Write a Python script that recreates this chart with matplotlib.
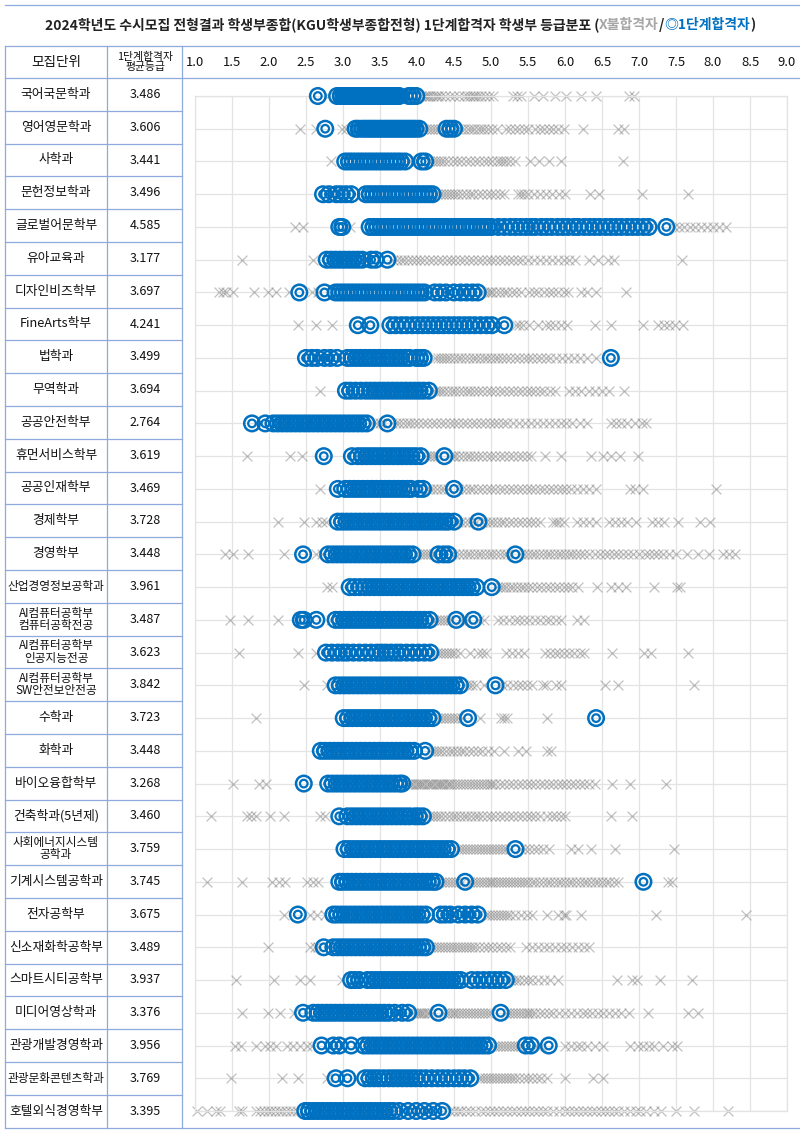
import numpy as np
import matplotlib
matplotlib.use("Agg")
import matplotlib.pyplot as plt
from matplotlib.transforms import blended_transform_factory

plt.rcParams['font.family'] = ['Noto Sans CJK KR', 'DejaVu Sans']

# ---- data ----
depts = ["국어국문학과", "영어영문학과", "사학과", "문헌정보학과", "글로벌어문학부",
         "유아교육과", "디자인비즈학부", "FineArts학부", "법학과", "무역학과",
         "공공안전학부", "휴먼서비스학부", "공공인재학부", "경제학부", "경영학부",
         "산업경영정보공학과", "AI컴퓨터공학부\n컴퓨터공학전공", "AI컴퓨터공학부\n인공지능전공",
         "AI컴퓨터공학부\nSW안전보안전공", "수학과", "화학과", "바이오융합학부", "건축학과(5년제)",
         "사회에너지시스템\n공학과", "기계시스템공학과", "전자공학부", "신소재화학공학부",
         "스마트시티공학부", "미디어영상학과", "관광개발경영학과", "관광문화콘텐츠학과",
         "호텔외식경영학부"]

avg_grade = ["3.486", "3.606", "3.441", "3.496", "4.585", "3.177", "3.697", "4.241",
             "3.499", "3.694", "2.764", "3.619", "3.469", "3.728", "3.448", "3.961",
             "3.487", "3.623", "3.842", "3.723", "3.448", "3.268", "3.460", "3.759",
             "3.745", "3.675", "3.489", "3.937", "3.376", "3.956", "3.769", "3.395"]

grade_ticks = ["1.0", "1.5", "2.0", "2.5", "3.0", "3.5", "4.0", "4.5", "5.0",
               "5.5", "6.0", "6.5", "7.0", "7.5", "8.0", "8.5", "9.0"]

# 1단계합격자 (blue double circles)
passed = [
    [2.66, 2.92, 2.97, 3.01, 3.05, 3.09, 3.14, 3.18, 3.22, 3.26, 3.31, 3.36, 3.40, 3.44, 3.47, 3.50, 3.54, 3.57, 3.60, 3.63, 3.66, 3.70, 3.73, 3.76, 3.89, 3.94, 3.99],  # 국어국문학과
    [2.76, 3.17, 3.21, 3.26, 3.30, 3.34, 3.38, 3.42, 3.46, 3.50, 3.54, 3.58, 3.62, 3.66, 3.70, 3.74, 3.78, 3.82, 3.86, 3.90, 3.94, 3.98, 4.03, 4.40, 4.45, 4.50],  # 영어영문학과
    [3.03, 3.08, 3.13, 3.18, 3.23, 3.28, 3.33, 3.38, 3.43, 3.48, 3.53, 3.58, 3.63, 3.68, 3.73, 3.78, 3.84, 4.06, 4.11],  # 사학과
    [2.73, 2.81, 2.91, 2.97, 3.04, 3.11, 3.31, 3.36, 3.41, 3.46, 3.51, 3.56, 3.61, 3.66, 3.71, 3.76, 3.81, 3.86, 3.91, 3.96, 4.01, 4.06, 4.11, 4.16, 4.21],  # 문헌정보학과
    [2.95, 2.99, 3.36, 3.41, 3.46, 3.51, 3.56, 3.61, 3.66, 3.71, 3.76, 3.81, 3.86, 3.91, 3.96, 4.01, 4.06, 4.11, 4.16, 4.21, 4.26, 4.31, 4.36, 4.41, 4.46, 4.51, 4.56, 4.61, 4.66, 4.71, 4.76, 4.81, 4.86, 4.91, 4.96, 5.01,
     5.10, 5.18, 5.26, 5.33, 5.40, 5.47, 5.54, 5.60, 5.68, 5.75, 5.82, 5.90, 5.97, 6.04, 6.12, 6.18, 6.26, 6.33, 6.40, 6.47, 6.55, 6.62, 6.69, 6.76, 6.84, 6.91, 6.98, 7.06, 7.13, 7.37],  # 글로벌어문학부
    [2.78, 2.84, 2.90, 2.96, 3.02, 3.08, 3.14, 3.20, 3.26, 3.38, 3.44, 3.60],  # 유아교육과
    [2.41, 2.75, 2.90, 2.95, 3.00, 3.05, 3.10, 3.15, 3.20, 3.25, 3.30, 3.35, 3.40, 3.45, 3.50, 3.55, 3.60, 3.65, 3.70, 3.75, 3.80, 3.85, 3.90, 3.95, 4.00, 4.05, 4.10, 4.24, 4.31, 4.39, 4.50, 4.59, 4.67, 4.75, 4.82],  # 디자인비즈학부
    [3.20, 3.37, 3.64, 3.71, 3.79, 3.86, 3.94, 4.01, 4.08, 4.15, 4.22, 4.29, 4.36, 4.43, 4.50, 4.57, 4.64, 4.71, 4.78, 4.86, 4.94, 5.01, 5.18],  # FineArts학부
    [2.50, 2.58, 2.65, 2.75, 2.83, 2.92, 3.06, 3.12, 3.18, 3.24, 3.30, 3.36, 3.42, 3.48, 3.54, 3.60, 3.66, 3.72, 3.78, 3.84, 3.90, 3.99, 4.04, 4.09, 6.62],  # 법학과
    [3.04, 3.10, 3.17, 3.24, 3.31, 3.37, 3.43, 3.49, 3.55, 3.61, 3.67, 3.73, 3.79, 3.85, 3.91, 3.97, 4.03, 4.09, 4.16],  # 무역학과
    [1.77, 1.95, 2.06, 2.12, 2.18, 2.24, 2.30, 2.36, 2.42, 2.48, 2.54, 2.60, 2.66, 2.72, 2.78, 2.84, 2.90, 2.96, 3.02, 3.08, 3.14, 3.20, 3.26, 3.32, 3.60],  # 공공안전학부
    [2.74, 3.12, 3.20, 3.26, 3.32, 3.38, 3.44, 3.50, 3.56, 3.62, 3.68, 3.74, 3.80, 3.86, 3.92, 3.98, 4.05, 4.37],  # 휴먼서비스학부
    [2.93, 3.03, 3.09, 3.15, 3.21, 3.27, 3.33, 3.39, 3.45, 3.51, 3.57, 3.63, 3.69, 3.75, 3.81, 3.87, 3.92, 4.02, 4.08, 4.50],  # 공공인재학부
    [2.93, 2.99, 3.05, 3.11, 3.17, 3.23, 3.29, 3.35, 3.41, 3.47, 3.53, 3.59, 3.65, 3.71, 3.77, 3.83, 3.89, 3.95, 4.01, 4.07, 4.13, 4.19, 4.25, 4.31, 4.37, 4.42, 4.50, 4.83],  # 경제학부
    [2.46, 2.80, 2.86, 2.92, 2.98, 3.04, 3.10, 3.16, 3.22, 3.28, 3.34, 3.40, 3.46, 3.52, 3.58, 3.64, 3.70, 3.76, 3.82, 3.88, 3.94, 4.29, 4.36, 4.42, 5.33],  # 경영학부
    [3.09, 3.16, 3.23, 3.30, 3.36, 3.42, 3.48, 3.54, 3.60, 3.66, 3.72, 3.78, 3.84, 3.90, 3.96, 4.02, 4.08, 4.14, 4.20, 4.26, 4.32, 4.38, 4.44, 4.50, 4.56, 4.62, 4.68, 4.74, 4.80, 5.01],  # 산업경영정보공학과
    [2.43, 2.47, 2.64, 2.90, 2.96, 3.02, 3.08, 3.14, 3.20, 3.26, 3.32, 3.38, 3.44, 3.50, 3.56, 3.62, 3.68, 3.74, 3.80, 3.86, 3.92, 3.98, 4.04, 4.10, 4.17, 4.53, 4.76],  # 컴퓨터공학전공
    [2.77, 2.85, 2.93, 3.00, 3.06, 3.14, 3.22, 3.30, 3.38, 3.46, 3.52, 3.58, 3.65, 3.72, 3.78, 3.86, 3.94, 4.02, 4.10, 4.18],  # 인공지능전공
    [2.90, 2.96, 3.02, 3.08, 3.14, 3.20, 3.26, 3.32, 3.38, 3.44, 3.50, 3.56, 3.62, 3.68, 3.74, 3.80, 3.86, 3.92, 3.98, 4.04, 4.10, 4.16, 4.22, 4.28, 4.34, 4.40, 4.46, 4.52, 4.58, 5.06],  # SW안전보안전공
    [3.01, 3.07, 3.13, 3.19, 3.25, 3.31, 3.37, 3.43, 3.49, 3.55, 3.61, 3.67, 3.73, 3.79, 3.85, 3.91, 3.97, 4.03, 4.09, 4.15, 4.21, 4.69, 6.42],  # 수학과
    [2.70, 2.76, 2.82, 2.88, 2.94, 3.00, 3.06, 3.12, 3.18, 3.24, 3.30, 3.36, 3.42, 3.48, 3.54, 3.60, 3.66, 3.72, 3.78, 3.84, 3.90, 3.96, 4.11],  # 화학과
    [2.47, 2.80, 2.86, 2.92, 2.98, 3.04, 3.10, 3.16, 3.22, 3.28, 3.34, 3.40, 3.46, 3.52, 3.58, 3.64, 3.70, 3.76, 3.80],  # 바이오융합학부
    [2.95, 3.06, 3.12, 3.18, 3.24, 3.30, 3.36, 3.42, 3.48, 3.54, 3.60, 3.66, 3.72, 3.78, 3.84, 3.90, 3.97, 4.02, 4.08],  # 건축학과(5년제)
    [3.02, 3.08, 3.14, 3.20, 3.26, 3.32, 3.38, 3.44, 3.50, 3.56, 3.62, 3.68, 3.74, 3.80, 3.86, 3.92, 3.98, 4.04, 4.10, 4.16, 4.22, 4.28, 4.34, 4.40, 4.46, 5.33],  # 사회에너지시스템공학과
    [2.95, 3.00, 3.06, 3.12, 3.18, 3.24, 3.30, 3.36, 3.42, 3.48, 3.54, 3.60, 3.66, 3.72, 3.78, 3.84, 3.90, 3.96, 4.02, 4.08, 4.14, 4.20, 4.25, 4.65, 7.06],  # 기계시스템공학과
    [2.39, 2.87, 2.92, 2.98, 3.04, 3.10, 3.16, 3.22, 3.28, 3.34, 3.40, 3.46, 3.52, 3.58, 3.64, 3.70, 3.76, 3.82, 3.88, 3.94, 4.00, 4.06, 4.12, 4.32, 4.38, 4.45, 4.56, 4.65, 4.74, 4.82],  # 전자공학부
    [2.74, 2.87, 2.93, 2.99, 3.05, 3.11, 3.17, 3.23, 3.29, 3.35, 3.41, 3.47, 3.53, 3.59, 3.65, 3.71, 3.77, 3.83, 3.89, 3.95, 4.01, 4.07, 4.12],  # 신소재화학공학부
    [3.11, 3.16, 3.22, 3.33, 3.39, 3.45, 3.51, 3.57, 3.63, 3.69, 3.75, 3.81, 3.87, 3.93, 3.99, 4.05, 4.11, 4.17, 4.23, 4.29, 4.35, 4.41, 4.47, 4.53, 4.59, 4.74, 4.82, 4.90, 4.98, 5.05, 5.12, 5.20],  # 스마트시티공학부
    [2.46, 2.60, 2.66, 2.72, 2.78, 2.84, 2.90, 2.96, 3.02, 3.08, 3.14, 3.20, 3.26, 3.32, 3.38, 3.44, 3.50, 3.56, 3.62, 3.70, 3.80, 3.88, 4.29, 5.13],  # 미디어영상학과
    [2.71, 2.87, 2.95, 3.11, 3.28, 3.34, 3.40, 3.46, 3.52, 3.58, 3.64, 3.70, 3.76, 3.82, 3.88, 3.94, 4.00, 4.06, 4.12, 4.18, 4.24, 4.30, 4.36, 4.42, 4.48, 4.54, 4.60, 4.66, 4.72, 4.78, 4.84, 4.90, 4.96, 5.47, 5.54, 5.78],  # 관광개발경영학과
    [2.90, 3.06, 3.30, 3.36, 3.42, 3.48, 3.55, 3.62, 3.68, 3.74, 3.80, 3.86, 3.92, 3.98, 4.05, 4.12, 4.20, 4.28, 4.35, 4.42, 4.50, 4.57, 4.64, 4.72],  # 관광문화콘텐츠학과
    [2.49, 2.54, 2.60, 2.66, 2.72, 2.78, 2.84, 2.90, 2.96, 3.02, 3.08, 3.14, 3.20, 3.26, 3.32, 3.38, 3.44, 3.50, 3.56, 3.62, 3.68, 3.76, 3.88, 3.99, 4.10, 4.22, 4.34],  # 호텔외식경영학부
]

# 불합격자 (grey crosses)
failed = [
    [2.80, 4.06, 4.09, 4.12, 4.15, 4.18, 4.21, 4.25, 4.29, 4.33, 4.38, 4.44, 4.50, 4.57, 4.63, 4.68, 4.72, 4.75, 4.79, 4.83, 4.87, 4.92, 4.97, 5.03, 5.30, 5.35, 5.40, 5.58, 5.70, 5.86, 6.02, 6.22, 6.42, 6.86, 6.93],
    [2.42, 2.63, 2.98, 3.04, 4.08, 4.12, 4.16, 4.20, 4.24, 4.28, 4.32, 4.56, 4.60, 4.64, 4.69, 4.73, 4.77, 4.82, 4.86, 4.91, 4.96, 5.02, 5.08, 5.20, 5.26, 5.32, 5.38, 5.44, 5.50, 5.60, 5.66, 5.72, 5.78, 5.84, 5.91, 5.98, 6.24, 6.72, 6.80],
    [2.84, 3.92, 3.96, 4.00, 4.16, 4.20, 4.24, 4.28, 4.32, 4.37, 4.42, 4.48, 4.54, 4.60, 4.66, 4.72, 4.78, 4.84, 4.90, 4.96, 5.02, 5.08, 5.12, 5.16, 5.20, 5.26, 5.32, 5.53, 5.65, 5.79, 5.94, 6.78],
    [4.27, 4.31, 4.35, 4.39, 4.43, 4.47, 4.51, 4.56, 4.61, 4.66, 4.71, 4.76, 4.82, 4.88, 4.94, 5.00, 5.06, 5.12, 5.18, 5.36, 5.40, 5.44, 5.50, 5.58, 5.66, 5.74, 5.82, 5.92, 6.00, 6.34, 6.46, 7.04, 7.66],
    [2.35, 2.46, 3.10, 5.07, 5.55, 6.45, 7.15, 7.47, 7.54, 7.61, 7.69, 7.76, 7.84, 7.92, 8.00, 8.08, 8.17],
    [1.64, 2.60, 3.68, 3.73, 3.78, 3.83, 3.88, 3.93, 3.98, 4.04, 4.10, 4.16, 4.22, 4.28, 4.34, 4.40, 4.46, 4.52, 4.58, 4.64, 4.70, 4.76, 4.82, 4.88, 4.94, 5.00, 5.06, 5.12, 5.18, 5.24, 5.30, 5.36, 5.42, 5.50, 5.58, 5.66, 5.74, 5.82, 5.90, 5.98, 6.06, 6.14, 6.33, 6.45, 6.58, 6.66, 7.58],
    [1.32, 1.38, 1.42, 1.51, 1.80, 1.99, 2.10, 2.27, 2.58, 2.66, 4.90, 4.94, 4.98, 5.02, 5.07, 5.12, 5.17, 5.22, 5.28, 5.34, 5.40, 5.52, 5.58, 5.64, 5.72, 5.78, 5.84, 5.90, 5.98, 6.04, 6.22, 6.30, 6.42, 6.83],
    [2.39, 2.63, 2.85, 5.34, 5.38, 5.43, 5.52, 5.63, 5.74, 5.80, 5.86, 5.95, 6.03, 6.40, 6.62, 7.05, 7.26, 7.34, 7.41, 7.49, 7.60],
    [4.24, 4.28, 4.32, 4.36, 4.40, 4.45, 4.50, 4.55, 4.60, 4.65, 4.70, 4.75, 4.80, 4.85, 4.90, 4.95, 5.00, 5.05, 5.10, 5.15, 5.20, 5.26, 5.32, 5.38, 5.44, 5.50, 5.56, 5.62, 5.68, 5.74, 5.80, 5.88, 5.96, 6.04, 6.12, 6.20, 6.30, 6.42],
    [2.69, 4.24, 4.28, 4.32, 4.37, 4.42, 4.47, 4.52, 4.57, 4.62, 4.67, 4.72, 4.77, 4.82, 4.88, 4.94, 5.00, 5.06, 5.12, 5.18, 5.24, 5.30, 5.36, 5.42, 5.48, 5.54, 5.60, 5.66, 5.72, 5.80, 5.86, 6.06, 6.14, 6.22, 6.32, 6.40, 6.50, 6.60, 6.80],
    [3.40, 3.45, 3.50, 3.55, 3.66, 3.71, 3.76, 3.81, 3.86, 3.91, 3.96, 4.02, 4.08, 4.14, 4.20, 4.26, 4.32, 4.38, 4.44, 4.50, 4.56, 4.62, 4.68, 4.74, 4.80, 4.86, 4.92, 4.98, 5.04, 5.10, 5.16, 5.22, 5.30, 5.38, 5.46, 5.54, 5.62, 5.70, 5.78, 5.86, 5.94, 6.02, 6.10, 6.20, 6.30, 6.62, 6.69, 6.76, 6.84, 6.94, 7.04, 7.10],
    [1.70, 2.28, 2.44, 4.12, 4.16, 4.20, 4.24, 4.28, 4.44, 4.48, 4.52, 4.57, 4.62, 4.67, 4.72, 4.77, 4.82, 4.88, 4.94, 5.00, 5.06, 5.12, 5.18, 5.24, 5.30, 5.36, 5.42, 5.48, 5.54, 5.73, 5.95, 6.35, 6.52, 6.62, 6.74, 6.98],
    [2.69, 4.14, 4.18, 4.22, 4.27, 4.32, 4.37, 4.42, 4.56, 4.61, 4.66, 4.71, 4.76, 4.82, 4.88, 4.94, 5.00, 5.06, 5.12, 5.18, 5.24, 5.30, 5.36, 5.42, 5.48, 5.54, 5.60, 5.66, 5.72, 5.78, 5.84, 5.90, 5.96, 6.02, 6.08, 6.16, 6.24, 6.32, 6.42, 6.88, 6.95, 7.05, 8.04],
    [2.12, 2.47, 2.63, 2.72, 2.77, 4.56, 4.60, 4.65, 4.70, 4.75, 4.80, 4.88, 4.93, 4.98, 5.03, 5.08, 5.13, 5.18, 5.24, 5.30, 5.36, 5.42, 5.48, 5.54, 5.60, 5.66, 5.84, 5.88, 5.92, 5.98, 6.16, 6.24, 6.32, 6.42, 6.60, 6.68, 6.76, 6.84, 6.96, 7.18, 7.26, 7.34, 7.53, 7.82, 7.96],
    [1.40, 1.51, 1.72, 2.20, 2.63, 2.71, 3.99, 4.03, 4.07, 4.11, 4.15, 4.19, 4.23, 4.47, 4.52, 4.57, 4.62, 4.67, 4.72, 4.77, 4.82, 4.87, 4.92, 4.97, 5.02, 5.07, 5.12, 5.17, 5.22, 5.27, 5.40, 5.45, 5.50, 5.55, 5.60, 5.65, 5.70, 5.75,
     5.80, 5.85, 5.90, 5.95, 6.00, 6.05, 6.10, 6.15, 6.20, 6.25, 6.32, 6.40, 6.47, 6.54, 6.60, 6.66, 6.72, 6.78, 6.85, 6.92, 7.00, 7.08, 7.14, 7.20, 7.26, 7.33, 7.40, 7.50, 7.65, 7.80, 7.95, 8.14, 8.22, 8.30],
    [2.79, 2.85, 5.08, 5.12, 5.16, 5.20, 5.25, 5.30, 5.35, 5.40, 5.45, 5.50, 5.56, 5.62, 5.68, 5.74, 5.80, 5.86, 5.92, 5.98, 6.04, 6.10, 6.17, 6.43, 6.62, 6.72, 6.82, 7.20, 7.52, 7.55],
    [1.47, 1.71, 2.12, 2.84, 4.22, 4.26, 4.30, 4.34, 4.38, 4.42, 4.46, 4.60, 4.64, 4.68, 4.84, 4.90, 5.10, 5.16, 5.24, 5.32, 5.38, 5.45, 5.52, 5.60, 5.66, 5.74, 5.80, 5.88, 5.95, 6.16, 6.26],
    [1.59, 2.39, 2.63, 4.27, 4.31, 4.35, 4.39, 4.43, 4.47, 4.52, 4.58, 4.72, 4.82, 4.88, 4.93, 5.20, 5.28, 5.36, 5.45, 5.73, 5.80, 5.86, 5.92, 5.98, 6.05, 6.12, 6.20, 6.26, 6.64, 7.07, 7.16, 7.66],
    [2.47, 2.79, 4.66, 4.70, 4.74, 4.80, 4.90, 5.15, 5.22, 5.30, 5.36, 5.42, 5.48, 5.56, 5.70, 5.74, 5.88, 5.94, 6.54, 6.72, 7.74],
    [1.83, 4.27, 4.31, 4.35, 4.39, 4.43, 4.47, 4.51, 4.56, 4.61, 4.85, 5.14, 5.18, 5.22, 5.76],
    [4.18, 4.22, 4.26, 4.30, 4.34, 4.39, 4.44, 4.49, 4.54, 4.59, 4.64, 4.70, 4.76, 4.82, 4.88, 4.96, 5.04, 5.17, 5.36, 5.47, 5.76, 5.81],
    [1.51, 1.86, 1.96, 3.86, 3.89, 3.92, 3.95, 3.98, 4.01, 4.04, 4.07, 4.10, 4.13, 4.16, 4.19, 4.22, 4.25, 4.28, 4.31, 4.34, 4.37, 4.40, 4.43, 4.46, 4.50, 4.54, 4.58, 4.62, 4.66, 4.70, 4.74, 4.78, 4.82, 4.86, 4.90, 4.94,
     4.98, 5.02, 5.06, 5.12, 5.18, 5.24, 5.30, 5.36, 5.42, 5.48, 5.54, 5.60, 5.66, 5.72, 5.78, 5.84, 5.90, 5.96, 6.02, 6.08, 6.14, 6.20, 6.26, 6.32, 6.40, 6.64, 6.88, 7.37],
    [1.21, 1.70, 1.76, 1.83, 2.02, 2.20, 2.69, 2.75, 4.16, 4.20, 4.24, 4.28, 4.33, 4.38, 4.43, 4.48, 4.53, 4.58, 4.63, 4.68, 4.73, 4.78, 4.83, 4.88, 4.94, 5.00, 5.06, 5.12, 5.18, 5.24, 5.30, 5.36, 5.42, 5.48, 5.54, 5.60,
     5.66, 5.76, 5.82, 5.88, 5.94, 6.00, 6.62, 6.91],
    [4.56, 4.60, 4.64, 4.68, 4.72, 4.76, 4.80, 4.84, 4.88, 4.92, 4.96, 5.00, 5.04, 5.08, 5.12, 5.16, 5.20, 5.26, 5.40, 5.46, 5.52, 5.58, 5.64, 5.70, 5.78, 6.08, 6.18, 6.35, 6.67, 7.47],
    [1.16, 1.64, 2.04, 2.13, 2.22, 2.52, 2.60, 2.66, 4.29, 4.33, 4.37, 4.41, 4.45, 4.49, 4.53, 4.57, 4.61, 4.70, 4.74, 4.78, 4.82, 4.86, 4.90, 4.94, 4.98, 5.02, 5.06, 5.10, 5.14, 5.18, 5.22, 5.26, 5.30, 5.34, 5.38, 5.42,
     5.46, 5.50, 5.55, 5.60, 5.65, 5.70, 5.75, 5.80, 5.85, 5.90, 5.95, 6.00, 6.05, 6.10, 6.15, 6.20, 6.25, 6.30, 6.35, 6.40, 6.45, 6.50, 6.55, 6.60, 6.66, 6.72, 7.39, 7.44],
    [2.20, 2.55, 2.65, 2.75, 4.93, 4.97, 5.01, 5.05, 5.09, 5.13, 5.17, 5.21, 5.26, 5.32, 5.40, 5.48, 5.56, 5.76, 5.90, 5.98, 6.02, 6.22, 7.23, 8.44],
    [1.99, 2.55, 2.62, 2.66, 4.18, 4.22, 4.26, 4.30, 4.34, 4.38, 4.42, 4.46, 4.50, 4.54, 4.58, 4.62, 4.66, 4.70, 4.74, 4.78, 4.84, 4.90, 4.96, 5.02, 5.08, 5.14, 5.20, 5.26, 5.47, 5.55, 5.63, 5.71, 5.79, 5.86, 5.94, 6.02,
     6.10, 6.18, 6.26, 6.32],
    [1.56, 2.07, 2.42, 2.55, 2.98, 5.26, 5.30, 5.34, 5.38, 5.44, 5.50, 5.56, 5.64, 5.72, 5.80, 5.90, 6.70, 6.91, 6.97, 7.29, 7.71],
    [1.64, 1.99, 2.15, 2.34, 3.95, 3.98, 4.01, 4.04, 4.07, 4.10, 4.13, 4.16, 4.20, 4.36, 4.40, 4.44, 4.48, 4.52, 4.56, 4.60, 4.64, 4.68, 4.72, 4.76, 4.80, 4.84, 4.88, 4.92, 4.96, 5.00, 5.20, 5.24, 5.28, 5.32, 5.36, 5.40,
     5.44, 5.48, 5.52, 5.56, 5.60, 5.66, 5.72, 5.78, 5.84, 5.92, 6.00, 6.08, 6.16, 6.24, 6.30, 6.36, 6.44, 6.52, 6.60, 6.68, 6.76, 6.86, 7.12, 7.66, 7.80],
    [1.54, 1.62, 1.83, 1.94, 2.02, 2.10, 2.24, 2.32, 2.42, 2.52, 2.58, 5.04, 5.08, 5.12, 5.16, 5.20, 5.24, 5.28, 5.32, 5.36, 5.40, 5.62, 5.68, 6.00, 6.08, 6.16, 6.22, 6.30, 6.40, 6.52, 6.88, 6.98, 7.06, 7.14, 7.20, 7.32,
     7.44, 7.52],
    [1.48, 2.18, 2.39, 2.79, 4.84, 4.88, 4.92, 4.96, 5.00, 5.04, 5.08, 5.12, 5.16, 5.20, 5.24, 5.28, 5.32, 5.38, 5.44, 5.50, 5.56, 5.62, 5.68, 5.76, 6.00, 6.38, 6.51],
    [1.03, 1.16, 1.29, 1.34, 1.59, 1.64, 1.83, 1.88, 1.93, 1.98, 2.03, 2.08, 2.13, 2.18, 2.23, 2.28, 2.33, 2.38, 4.45, 4.50, 4.55, 4.60, 4.66, 4.72, 4.78, 4.86, 4.92, 4.98, 5.04, 5.10, 5.16, 5.22, 5.28, 5.34, 5.40, 5.46,
     5.52, 5.58, 5.64, 5.70, 5.76, 5.84, 5.92, 6.00, 6.06, 6.12, 6.18, 6.24, 6.30, 6.36, 6.42, 6.48, 6.54, 6.60, 6.66, 6.72, 6.80, 6.88, 6.96, 7.02, 7.10, 7.20, 7.30, 7.50, 7.74, 8.20],
]

title_parts = [("2024학년도 수시모집 전형결과 학생부종합(KGU학생부종합전형) 1단계합격자 학생부 등급분포 (", "#222222"),
               ("X불합격자", "#a6a6a6"), ("/", "#222222"), ("◎1단계합격자", "#0070C0"), (")", "#222222")]

# ---- layout in pixels ----
W, H = 800, 1135
BLUE = "#0070C0"
LINE = "#8FAADC"
row_top = 78
row_h = 32.8
n = len(depts)

fig = plt.figure(figsize=(W / 100, H / 100), dpi=100)
bg = fig.add_axes([0, 0, 1, 1])
bg.set_xlim(0, W)
bg.set_ylim(H, 0)
bg.axis("off")
renderer = fig.canvas.get_renderer()

# table lines
for y in [5, 46, row_top, row_top + n * row_h]:
    bg.plot([5, W], [y, y], color=LINE, lw=0.9)
for k in range(1, n):
    y = row_top + k * row_h
    bg.plot([5, 182], [y, y], color=LINE, lw=0.9)
for x in [5, 107, 182]:
    bg.plot([x, x], [46, row_top + n * row_h], color=LINE, lw=0.9)

# header cells
bg.text(56, 62, "모집단위", ha="center", va="center", fontsize=9.8, color="#111111")
bg.text(145, 62, "1단계합격자\n평균등급", ha="center", va="center", fontsize=7.8,
        linespacing=0.9, color="#111111")

for i in range(n):
    yc = row_top + (i + 0.5) * row_h
    name = depts[i]
    fs = 8.4 if "\n" in name else 9.2
    t = bg.text(56, yc, name, ha="center", va="center", fontsize=fs, linespacing=0.92, color="#111111")
    w = t.get_window_extent(renderer).width
    if w > 97:
        t.set_fontsize(fs * 97 / w)
    bg.text(145, yc, avg_grade[i], ha="center", va="center", fontsize=9, color="#111111")

# scatter area
y0, y1 = 96, 1111
ax = fig.add_axes([195 / W, 1 - y1 / H, 592 / W, (y1 - y0) / H])
ax.set_xlim(1, 9)
ax.set_ylim(n - 1, 0)
ax.set_xticks(np.arange(1, 9.01, 0.5))
ax.set_yticks(range(n))
ax.grid(color="#e3e3e3", lw=0.9)
ax.set_axisbelow(True)
ax.tick_params(length=0, labelbottom=False, labelleft=False)
for s in ax.spines.values():
    s.set_color("#e3e3e3")
    s.set_linewidth(0.9)
ax.patch.set_alpha(0)

for i in range(n):
    xs = failed[i]
    ax.scatter(xs, [i] * len(xs), marker="x", s=50, color="#6a6a6a", alpha=0.42,
               linewidths=0.9, clip_on=False, zorder=2)
for i in range(n):
    xs = passed[i]
    ax.scatter(xs, [i] * len(xs), marker="o", s=125, facecolors="none", edgecolors=BLUE,
               linewidths=1.8, clip_on=False, zorder=3)
    ax.scatter(xs, [i] * len(xs), marker="o", s=30, facecolors="none", edgecolors=BLUE,
               linewidths=1.6, clip_on=False, zorder=3)

# header grade labels placed on the grade scale
tr = blended_transform_factory(ax.transData, bg.transData)
for lab in grade_ticks:
    bg.text(float(lab), 62, lab, transform=tr, ha="center", va="center", fontsize=9.4, color="#111111")

# multi-coloured title
widths = []
for txt, col in title_parts:
    t = fig.text(0, 0, txt, fontsize=10, fontweight="bold")
    widths.append(t.get_window_extent(renderer).width)
    t.remove()
x = W / 2 - sum(widths) / 2
for (txt, col), w in zip(title_parts, widths):
    fig.text(x / W, 1 - 25 / H, txt, fontsize=10, fontweight="bold", color=col, va="center", ha="left")
    x += w

fig.savefig("out.png", dpi=100)
